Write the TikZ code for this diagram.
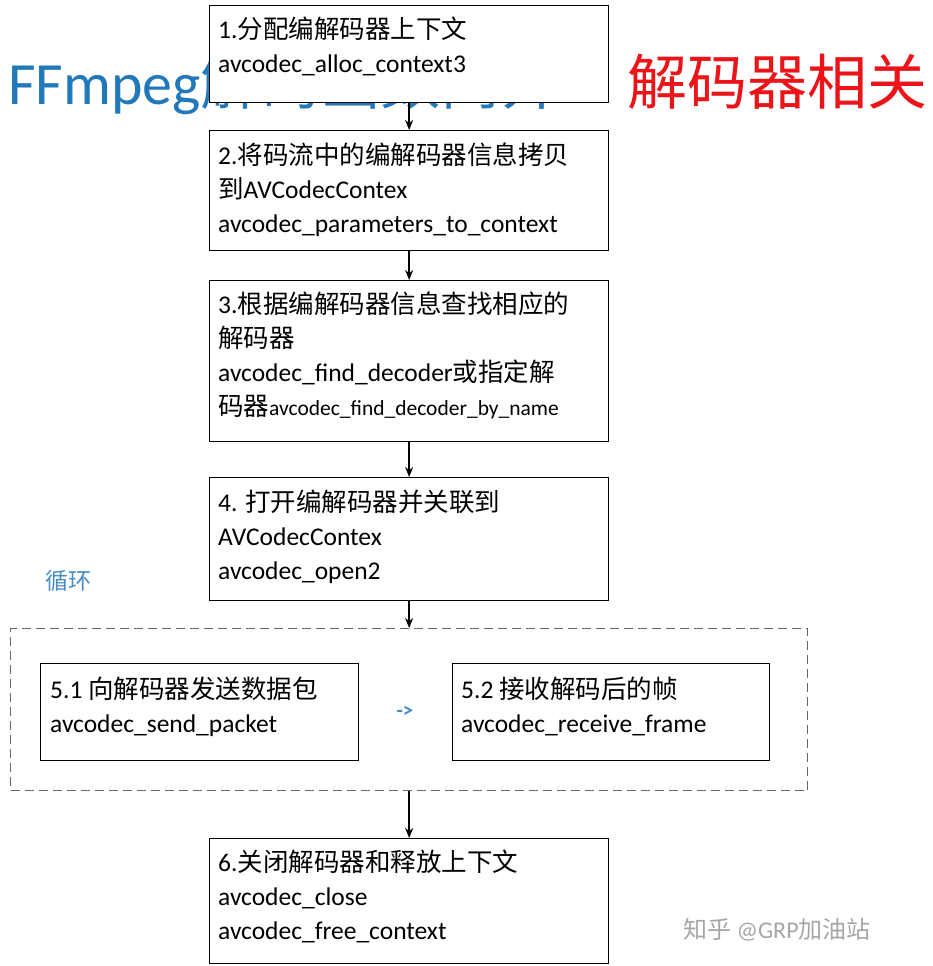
\documentclass[tikz,border=0pt]{standalone}
\usepackage{fontspec}
\setmainfont{Carlito}
\newfontfamily\zhf{Noto Sans CJK SC}
\newcommand{\zh}[1]{{\zhf #1}}
\usetikzlibrary{arrows.meta}
\definecolor{ttlblue}{RGB}{35,120,185}
\definecolor{lblblue}{RGB}{70,140,200}
\definecolor{ttlred}{RGB}{235,20,25}
\tikzset{
 box/.style={draw=black, line width=1.3pt, fill=white, anchor=north west, inner sep=0pt},
 txt/.style={anchor=north west, align=left, inner sep=0pt, font=\fontsize{25.5}{34}\selectfont},
 arr/.style={-{Stealth[length=10pt,width=8pt]}, line width=1.5pt}
}
\begin{document}
\begin{tikzpicture}[x=1pt,y=-1pt]
\useasboundingbox (0,0) rectangle (932,966);
\node[anchor=base west, inner sep=0pt, text=ttlblue, font=\fontsize{60}{60}\selectfont] (title) at (8,104) {FFmpeg\zh{解码函数简介}};
\node[anchor=base east, inner sep=0pt, text=ttlred, font=\fontsize{60}{60}\selectfont\zhf] (title2) at (928,104) {解码器相关};
\node[box, minimum width=399, minimum height=97] (b1) at (209,5) {};
\node[txt] (t1) at (218,17) {1.\zh{分配编解码器上下文}\\avcodec\_alloc\_context3};
\node[box, minimum width=399, minimum height=120] (b2) at (209,130) {};
\node[txt] (t2) at (218,143) {2.\zh{将码流中的编解码器信息拷贝}\\\zh{到}AVCodecContex\\avcodec\_parameters\_to\_context};
\node[box, minimum width=399, minimum height=161] (b3) at (209,280) {};
\node[txt] (t3) at (218,292) {3.\zh{根据编解码器信息查找相应的}\\\zh{解码器}\\avcodec\_find\_decoder\zh{或指定解}\\\zh{码器}{\fontsize{21.5}{34}\selectfont avcodec\_find\_decoder\_by\_name}};
\node[box, minimum width=399, minimum height=123] (b4) at (209,477) {};
\node[txt] (t4) at (218,490) {4. \zh{打开编解码器并关联到}\\AVCodecContex\\avcodec\_open2};
\node[anchor=west, inner sep=0pt, text=lblblue, font=\fontsize{23}{23}\selectfont\zhf] (loop) at (45,581) {循环};
\node[box, draw=gray!80!black, line width=1pt, dash pattern=on 9pt off 5pt, minimum width=797, minimum height=162] (dl) at (10,628) {};
\node[box, minimum width=318, minimum height=97] (b51) at (40,663) {};
\node[txt] (t51) at (50,677) {5.1 \zh{向解码器发送数据包}\\avcodec\_send\_packet};
\node[box, minimum width=317, minimum height=97] (b52) at (452,663) {};
\node[txt] (t52) at (461,677) {5.2 \zh{接收解码后的帧}\\avcodec\_receive\_frame};
\node[inner sep=0pt, text=lblblue, font=\bfseries\fontsize{21}{21}\selectfont] (ar) at (405,712) {->};
\node[box, minimum width=399, minimum height=125] (b6) at (209,838) {};
\node[txt] (t6) at (218,850) {6.\zh{关闭解码器和释放上下文}\\avcodec\_close\\avcodec\_free\_context};
\node[anchor=west, inner sep=0pt, text=gray!70, font=\fontsize{24}{24}\selectfont] (wm) at (683,930) {\zh{知乎} @GRP\zh{加油站}};
\draw[arr] (b1.south) -- (b2.north);
\draw[arr] (b2.south) -- (b3.north);
\draw[arr] (b3.south) -- (b4.north);
\draw[arr] (b4.south) -- (dl.north -| b4.south);
\draw[arr] (dl.south -| b6.north) -- (b6.north);
\end{tikzpicture}
\end{document}
